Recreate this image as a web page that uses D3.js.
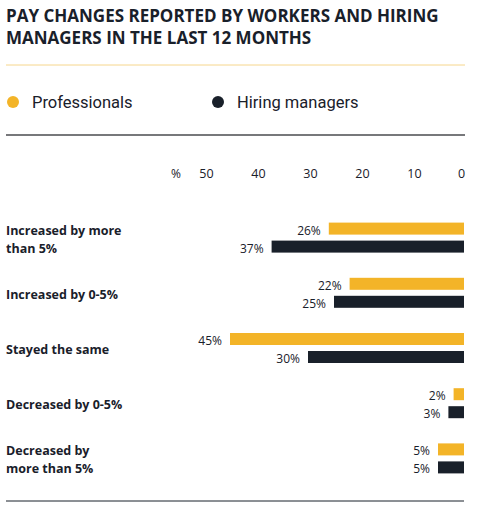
<!DOCTYPE html>
<html>
<head>
<meta charset="utf-8">
<script src="https://cdn.jsdelivr.net/npm/d3@7"></script>
<style>
  body { margin: 0; background: #fff; }
</style>
</head>
<body>
<div id="chart"></div>
<script>
// chart data
var categories = [
    ["Increased by more", "than 5%"],
    ["Increased by 0-5%"],
    ["Stayed the same"],
    ["Decreased by 0-5%"],
    ["Decreased by", "more than 5%"]
];
var professionals = [26, 22, 45, 2, 5];
var hiringManagers = [37, 25, 30, 3, 5];
var tickValues = [50, 40, 30, 20, 10, 0];
var seriesNames = ["Professionals", "Hiring managers"];

var yellow = "#f3b428";
var navy = "#19202a";

var svg = d3.select("#chart")
    .append("svg")
    .attr("width", 478)
    .attr("height", 515)
    .style("font-family", "\"Open Sans\", \"DejaVu Sans\", sans-serif");

// title
var title = svg.append("text")
    .attr("x", 6)
    .attr("y", 22)
    .attr("font-size", "17px")
    .attr("font-weight", "bold")
    .attr("fill", "#19202a");
title.append("tspan").attr("x", 6).attr("y", 22).text("PAY CHANGES REPORTED BY WORKERS AND HIRING");
title.append("tspan").attr("x", 6).attr("y", 44).text("MANAGERS IN THE LAST 12 MONTHS");

svg.append("line")
    .attr("x1", 6).attr("x2", 465)
    .attr("y1", 65).attr("y2", 65)
    .attr("stroke", "#f6d68c")
    .attr("stroke-width", 1);

// legend
var legendX = [13, 218];
var legendColors = [yellow, navy];
seriesNames.forEach(function (name, i) {
    svg.append("circle")
        .attr("cx", legendX[i])
        .attr("cy", 102)
        .attr("r", 6)
        .attr("fill", legendColors[i]);
    svg.append("text")
        .attr("x", legendX[i] + 19)
        .attr("y", 108)
        .attr("font-size", "16.5px")
        .style("font-family", "Roboto, sans-serif")
        .attr("fill", "#19202a")
        .text(name);
});

svg.append("line")
    .attr("x1", 6).attr("x2", 465)
    .attr("y1", 135).attr("y2", 135)
    .attr("stroke", "#77787b")
    .attr("stroke-width", 2);

// scales
var x = d3.scaleLinear()
    .domain([0, 50])
    .range([464, 204]);

var y = d3.scaleBand()
    .domain(d3.range(categories.length))
    .range([210, 486])
    .paddingInner(0)
    .paddingOuter(0);

var barH = 12;
var barGap = 6;

// axis on top
var axis = svg.append("g")
    .attr("transform", "translate(0,178)")
    .call(d3.axisTop(x).tickValues(tickValues).tickSize(0).tickPadding(0));
axis.select(".domain").remove();
axis.selectAll("text")
    .attr("font-size", "12.5px")
    .attr("fill", "#19202a")
    .style("font-family", "\"Open Sans\", sans-serif")
    .attr("dy", 0)
    .attr("dx", function (d) { return d === 0 ? -3 : 2; });

svg.append("text")
    .attr("x", 176)
    .attr("y", 178)
    .attr("font-size", "12px")
    .attr("fill", "#19202a")
    .attr("text-anchor", "middle")
    .text("%");

// rows
var rows = svg.selectAll(".row")
    .data(categories)
    .enter()
    .append("g")
    .attr("class", "row")
    .attr("transform", function (d, i) { return "translate(0," + y(i) + ")"; });

var center = y.bandwidth() / 2;

rows.append("text")
    .attr("x", 6)
    .attr("font-size", "12.5px")
    .attr("font-weight", "bold")
    .attr("fill", "#19202a")
    .each(function (d) {
        var t = d3.select(this);
        var startY = center + 6 - (d.length - 1) * 9;
        d.forEach(function (line, j) {
            t.append("tspan")
                .attr("x", 6)
                .attr("y", startY + j * 18)
                .text(line);
        });
    });

var seriesData = [professionals, hiringManagers];
seriesData.forEach(function (values, s) {
    var top = function (i) { return center - barH - barGap / 2 + s * (barH + barGap); };

    rows.append("rect")
        .attr("x", function (d, i) { return x(values[i]); })
        .attr("y", function (d, i) { return top(i); })
        .attr("width", function (d, i) { return x(0) - x(values[i]); })
        .attr("height", barH)
        .attr("fill", legendColors[s]);

    rows.append("text")
        .attr("x", function (d, i) { return x(values[i]) - 8; })
        .attr("y", function (d, i) { return top(i) + 12; })
        .attr("text-anchor", "end")
        .attr("font-size", "12px")
        .attr("fill", "#19202a")
        .text(function (d, i) { return values[i] + "%"; });
});

svg.append("line")
    .attr("x1", 6).attr("x2", 464)
    .attr("y1", 501).attr("y2", 501)
    .attr("stroke", "#19202a")
    .attr("stroke-width", 1);
</script>
</body>
</html>
